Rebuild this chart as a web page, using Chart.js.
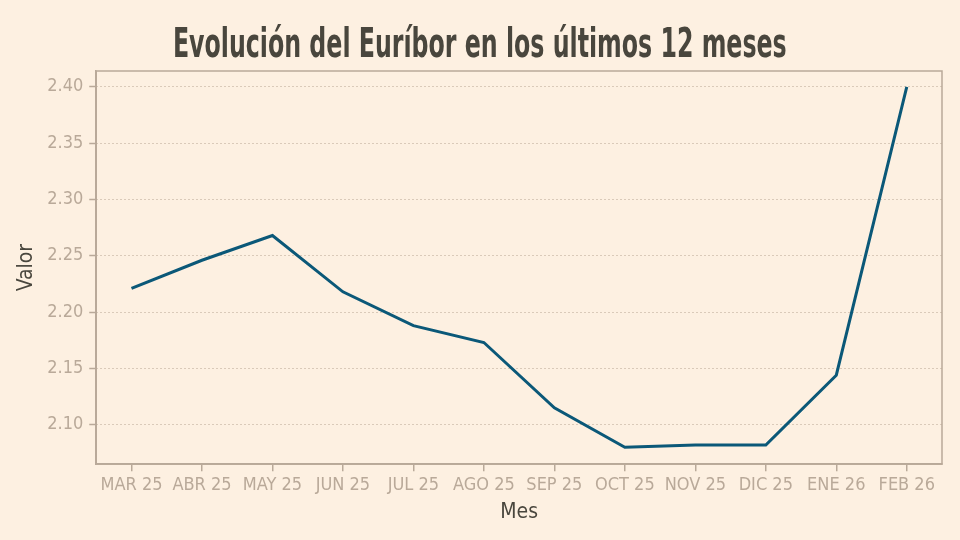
<!DOCTYPE html>
<html>
<head>
<meta charset="utf-8">
<script src="https://cdn.jsdelivr.net/npm/chart.js@4"></script>
<style>
  html, body { margin: 0; padding: 0; background: #fdf0e1; }
  #wrap { width: 960px; height: 540px; position: relative; }
  #titulo {
    position: absolute; left: 0; top: 18px; width: 960px; margin: 0;
    text-align: center; color: #49463d; white-space: nowrap;
    font-family: "DejaVu Sans Condensed", "DejaVu Sans", sans-serif;
    font-weight: bold; font-size: 41px; line-height: 50px;
  }
  #titulo span { display: inline-block; transform-origin: center center; }
</style>
</head>
<body>
<div id="wrap">
  <h1 id="titulo"><span>Evolución del Euríbor en los últimos 12 meses</span></h1>
  <canvas id="euriborChart" width="960" height="540"></canvas>
</div>
<script>
const meses = ['MAR 25', 'ABR 25', 'MAY 25', 'JUN 25', 'JUL 25', 'AGO 25', 'SEP 25', 'OCT 25', 'NOV 25', 'DIC 25', 'ENE 26', 'FEB 26'];
const valores = [2.221, 2.246, 2.268, 2.218, 2.188, 2.173, 2.115, 2.080, 2.082, 2.082, 2.144, 2.400];
const ticksY = [2.10, 2.15, 2.20, 2.25, 2.30, 2.35, 2.40];

const fondo = '#fdf0e1';
const tinta = '#49463d';
const tenue = '#b9a999';
const fuente = '"DejaVu Sans Condensed", "DejaVu Sans", sans-serif';

// el título usa una fuente estrecha: se comprime la condensada para ocupar lo mismo
const span = document.querySelector('#titulo span');
span.style.transform = 'scaleX(' + (614 / span.offsetWidth) + ')';

const bgPlugin = {
    id: 'bg',
    beforeDraw(chart) {
        const ctx = chart.ctx;
        ctx.save();
        ctx.fillStyle = fondo;
        ctx.fillRect(0, 0, chart.width, chart.height);
        ctx.restore();
    }
};

const ctx = document.getElementById('euriborChart').getContext('2d');
new Chart(ctx, {
    type: 'line',
    data: {
        labels: meses,
        datasets: [{
            label: 'Euríbor',
            data: valores,
            borderColor: '#0b5878',
            borderWidth: 3,
            pointRadius: 0,
            tension: 0,
            fill: false
        }]
    },
    options: {
        responsive: false,
        animation: false,
        layout: { padding: { left: 14, right: 18, top: 71, bottom: 15 } },
        plugins: {
            legend: { display: false },
            tooltip: { enabled: false },
            title: { display: false }
        },
        scales: {
            x: {
                offset: true,
                grid: { display: true, drawOnChartArea: false, drawTicks: true, tickLength: 7, color: tenue, lineWidth: 1.5, offset: false },
                border: { display: true, color: tenue, width: 1.5 },
                ticks: { color: tenue, font: { family: fuente, size: 18 }, maxRotation: 0, autoSkip: false, padding: 3 },
                title: { display: true, text: 'Mes', color: tinta, font: { family: fuente, size: 21 }, padding: { top: 1, bottom: 0 } }
            },
            y: {
                min: 2.065,
                max: 2.414,
                afterBuildTicks(axis) { axis.ticks = ticksY.map(v => ({ value: v })); },
                grid: { color: 'rgba(170,150,130,0.85)', lineWidth: 1, tickColor: tenue, tickLength: 7, tickWidth: 1.5, tickBorderDash: [] },
                border: { display: true, color: tenue, width: 1.5, dash: [1, 3] },
                ticks: { color: tenue, font: { family: fuente, size: 18 }, padding: 6, callback: v => v.toFixed(2) },
                title: { display: true, text: 'Valor', color: tinta, font: { family: fuente, size: 21 }, padding: { top: 0, bottom: 2 } }
            }
        }
    },
    plugins: [bgPlugin, {
        id: 'marco',
        afterDraw(chart) {
            const a = chart.chartArea;
            const c = chart.ctx;
            c.save();
            c.strokeStyle = tenue;
            c.lineWidth = 1.5;
            c.setLineDash([]);
            c.strokeRect(a.left, a.top, a.right - a.left, a.bottom - a.top);
            c.restore();
        }
    }]
});
</script>
</body>
</html>
